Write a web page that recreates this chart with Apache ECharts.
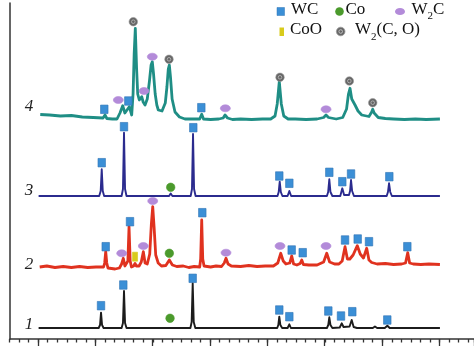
<!DOCTYPE html>
<html><head><meta charset="utf-8">
<script src="https://cdn.jsdelivr.net/npm/echarts@6/dist/echarts.min.js"></script>
<style>html,body{margin:0;padding:0;background:#fff}#c{width:474px;height:348px}</style>
</head><body><div id="c"></div>
<script>
// Curve labels
const curveLabels = ['1', '2', '3', '4'];
// Legend labels (phases)
const phaseNames = ['WC', 'Co', 'W₂C', 'CoO', 'W₂(C, O)'];

// XRD patterns: [2θ, intensity (offset, arbitrary units)]
const pattern1 = [
  [20.0,11],[31.0,11],[31.25,14],[31.43,26.3],[31.62,14],[31.9,11],
  [35.2,11],[35.45,16],[35.64,48],[35.83,16],[36.1,11],
  [43.8,11],[44.07,13],[44.35,11],
  [47.8,11],[48.03,17],[48.22,55.7],[48.41,17],[48.7,11],
  [63.7,11],[63.9,14],[64.08,22.3],[64.28,14],[64.6,11],
  [65.6,11],[65.92,14.7],[66.2,11],
  [72.8,11],[73.05,14],[73.24,21.7],[73.45,14],[73.8,11],
  [75.15,11.5],[75.51,15.7],[75.85,12],
  [76.95,12.5],[77.34,19],[77.7,12],[78.3,11],
  [81.2,11],[81.6,12.5],[82.0,11],
  [83.4,11],[83.87,13.3],[84.3,11],
  [93.5,11]
];
const pattern2 = [
  [20.2,72],[21.5,73],[23,71.5],[24.5,72.5],[26,71.5],[27.5,72.5],[29,71.5],[30.5,72],
  [31.9,72],[32.1,76],[32.29,87.3],[32.48,76],[32.7,71],
  [34,70],[34.8,71],[35.2,75],[35.51,80.7],[35.8,73],[36.1,71],[36.35,78],[36.56,112.3],[36.77,78],[37.0,72],
  [37.4,73],[37.66,75.5],[37.9,73],[38.4,73],[38.8,77],[39.18,87.3],[39.5,76],[39.9,75],
  [40.35,85],[40.65,115],[40.9,132.3],[41.15,112],[41.45,84],[41.9,76],[42.5,73],
  [43.3,73.5],[43.94,79],[44.5,74],[45.3,72.5],[46.5,73],[47.5,71.5],[48.5,72.5],[49.5,72],
  [49.68,80],[49.87,119],[50.06,80],[50.3,73],[51.5,72],[52.5,73],[53.5,72.5],
  [54.0,76],[54.32,80.7],[54.7,75],[55.3,73],[57,72.5],[58.5,73.5],[60,72.5],[61.5,73],[63,73],
  [63.8,76],[64.34,85.7],[64.8,78],[65.3,75],[66.0,76],[66.36,83],[66.7,75],[67.3,74],
  [67.9,75.5],[68.19,79],[68.5,74.5],[69.5,74],[71,74],[72.2,77],[72.77,85.7],[73.3,77],
  [74.2,75],[75,75],[75.6,78],[76.12,92.3],[76.55,80],[77,80],[77.6,84],[78.37,93.3],
  [78.9,85],[79.5,81],[80.09,90.7],[80.5,79],[81,76.5],[82,75],[83.5,75.5],[85,74.5],
  [86.5,75],[87.2,76],[87.6,86.3],[87.95,76],[88.6,75],[90,74.5],[91.5,75],[93.5,74.5]
];
const pattern3 = [
  [20.0,143],[31.1,143],[31.37,148],[31.56,169.7],[31.75,148],[32.0,143],
  [35.2,143],[35.45,150],[35.64,206.3],[35.83,150],[36.1,143],
  [43.9,143],[44.19,145.5],[44.5,143],
  [47.85,143],[48.09,150],[48.28,205],[48.47,150],[48.75,143],
  [51.1,143],[51.39,144.5],[51.7,143],
  [63.75,143],[63.97,147],[64.16,157.3],[64.36,147],[64.65,143],
  [65.6,143],[65.92,148],[66.25,143],
  [72.8,143],[73.03,147],[73.24,159.7],[73.45,147],[73.8,143],
  [75.25,143],[75.62,150.7],[75.95,144],
  [76.85,144],[77.04,148],[77.22,159],[77.42,148],[77.75,143],
  [83.75,143],[83.98,147],[84.18,155.7],[84.4,147],[84.7,143],
  [93.5,143]
];
const pattern4 = [
  [20.3,224.5],[22,224],[24,223],[26,223.5],[28,222],[30,221.5],[31.8,221],[32.16,224],[32.5,220.5],
  [33.5,220],[34.36,220],[34.9,226],[35.4,233.3],[35.8,226],[36.13,224],[36.61,232.3],[37.05,224],
  [37.3,245],[37.5,285],[37.71,310.7],[37.95,270],[38.15,245],[38.44,239],[38.88,242.3],[39.15,237],
  [39.49,234],[39.9,240],[40.3,258],[40.6,274],[40.82,277.3],[41.05,265],[41.35,245],[41.65,234],
  [41.92,229],[42.6,228],[43.2,236],[43.5,252],[43.75,270],[43.94,274],[44.15,262],[44.45,240],
  [44.98,227],[45.8,222],[46.81,220],[48,220],[49.5,220],[49.87,224.7],[50.2,220],[51.5,219.5],
  [53,220],[53.8,221],[54.14,224],[54.6,221],[55.5,219.5],[57,220],[59,219.5],[61,220],[62.5,220],
  [63.3,223],[63.7,235],[64.08,257.3],[64.45,235],[64.9,223],[65.7,220],[67,220],[69,219.5],[71,220],
  [72.2,221.5],[72.64,224],[73.1,221.5],[74.5,220],[75.7,221.5],[76.4,230],[76.75,245],[77.03,250.7],
  [77.35,240],[77.95,234],[78.5,228],[79.18,224],[80.5,222.5],[81.0,227],[81.19,229.7],[81.45,226],
  [82.2,221.5],[83.5,220.5],[85,220],[87,219.5],[89,220],[91,219.5],[93.5,220]
];

// Phase markers: [2θ, intensity]
const wcMarks = [
  [31.43,33.3],[35.51,54],[48.22,60.7],[64.08,29],[65.92,22.3],[73.06,28],[75.38,23],[77.45,27.3],[83.86,19],
  [32.29,92.3],[36.74,117.3],[49.98,126.3],[66.35,89],[68.37,86.3],[76.12,99],[78.44,100],[80.51,97.3],[87.53,92.3],
  [31.56,176.3],[35.64,212.3],[48.33,211.3],[64.08,163],[65.92,155.7],[73.24,166.7],[75.62,157.3],[77.22,165],[84.23,162.3],
  [32.03,229.7],[36.43,238],[49.80,231.3]
];
const coMarks = [[44.07,20.7],[43.94,85.7],[44.19,151.7]];
const w2cMarks = [
  [35.22,85.7],[39.18,93],[40.90,138],[54.32,86.3],[64.21,93],[72.64,93],
  [40.82,282.3],[39.30,248],[34.60,239],[54.20,230.7],[72.64,229.7]
];
const cooMarks = [[37.66,82.3]];
const w2coMarks = [[37.34,317.3],[43.88,279.7],[64.21,261.7],[76.91,258],[81.19,236.3]];

const serif = '"Liberation Serif", "DejaVu Serif", serif';
const C = {wc:'#3b8fd6', co:'#4b9a2c', w2c:'#b38bd9', coo:'#d8cb1c', w2co:'#666666'};

const chart = echarts.init(document.getElementById('c'));

function lineSeries(data, color, width) {
  return {type:'line', xAxisIndex:0, yAxisIndex:0, data, showSymbol:false, smooth:false,
    lineStyle:{color, width, join:'round'}, z:2, animation:false};
}
function markSeries(data, symbol, size, color, border) {
  return {type:'scatter', xAxisIndex:0, yAxisIndex:0, data, symbol, symbolSize:size,
    itemStyle:{color, borderColor:border || color, borderWidth:0.6, opacity:1}, z:5, animation:false, silent:true};
}

const subRich = {
  a:{fontSize:17, fontFamily:serif, lineHeight:18, verticalAlign:'top', fill:'#111', color:'#111'},
  b:{fontSize:11, fontFamily:serif, lineHeight:11, padding:[10,0,0,0], verticalAlign:'top', fill:'#111', color:'#111'}
};
function legText(x, y, t) {
  return {type:'text', x, y, silent:true, style:{text:t, rich:subRich, verticalAlign:'top', align:'left', fill:'#111'}};
}

const graphic = [
  {type:'rect', shape:{x:277, y:7.5, width:7.5, height:8}, style:{fill:C.wc, stroke:'#2f74b5', lineWidth:0.5}},
  legText(291, 1, '{a|' + phaseNames[0] + '}'),
  {type:'circle', shape:{cx:339.5, cy:11.5, r:4.3}, style:{fill:C.co}},
  legText(345.5, 1, '{a|' + phaseNames[1] + '}'),
  {type:'ellipse', shape:{cx:400, cy:11.5, rx:5, ry:3.6}, style:{fill:C.w2c}},
  legText(411.5, 1, '{a|W}{b|2}{a|C}'),
  {type:'rect', shape:{x:279.5, y:27.5, width:4.5, height:8.5}, style:{fill:C.coo}},
  legText(290, 21.5, '{a|' + phaseNames[3] + '}'),
  {type:'circle', shape:{cx:340.7, cy:31.5, r:4.3}, style:{fill:C.w2co, stroke:'#999', lineWidth:0.8}},
  {type:'circle', shape:{cx:340.7, cy:31.5, r:1.8}, style:{fill:'none', stroke:'#cfcfcf', lineWidth:0.8}},
  legText(355, 21.5, '{a|W}{b|2}{a|(C, O)}')
];
const labelY = [325, 264.5, 190.5, 107];
curveLabels.forEach((t, i) => graphic.push({type:'text', x:29, y:labelY[i], silent:true,
  style:{text:t, font:'italic 17px ' + serif, fill:'#222', align:'center', verticalAlign:'middle'}}));

chart.setOption({
  animation:false,
  backgroundColor:'#fff',
  grid:[
    {left:10, right:0, top:3, bottom:9},
    {left:38, right:0, top:3, bottom:9},
    {left:9.4, right:0, top:3, bottom:9}
  ],
  xAxis:[
    {type:'value', gridIndex:0, min:14.76, max:99.74, axisLine:{show:true, onZero:false, lineStyle:{color:'#333', width:1.5}},
     axisTick:{show:false}, axisLabel:{show:false}, splitLine:{show:false}},
    {type:'value', gridIndex:1, min:0, max:7.609, interval:1, axisLine:{show:false},
     axisTick:{show:true, length:7, inside:false, lineStyle:{color:'#333', width:1.3}}, axisLabel:{show:false}, splitLine:{show:false}},
    {type:'value', gridIndex:2, min:0, max:48.6, interval:1, axisLine:{show:false},
     axisTick:{show:true, length:3.5, inside:false, lineStyle:{color:'#333', width:1.3}}, axisLabel:{show:false}, splitLine:{show:false}}
  ],
  yAxis:[
    {type:'value', gridIndex:0, min:0, max:336, axisLine:{show:true, lineStyle:{color:'#333', width:1.5}},
     axisTick:{show:false}, axisLabel:{show:false}, splitLine:{show:false}},
    {type:'value', gridIndex:1, min:0, max:1, show:false},
    {type:'value', gridIndex:2, min:0, max:1, show:false}
  ],
  graphic,
  series:[
    lineSeries(pattern1, '#1c1c1c', 1.9),
    lineSeries(pattern2, '#e0321f', 2.8),
    lineSeries(pattern3, '#2b2b8e', 1.9),
    lineSeries(pattern4, '#1f8e85', 2.8),
    markSeries(wcMarks, 'rect', [7.5, 8.5], C.wc, '#2f74b5'),
    markSeries(coMarks, 'circle', 8.5, C.co),
    markSeries(w2cMarks, 'circle', [10, 7], C.w2c),
    markSeries(cooMarks, 'rect', [5, 9], C.coo),
    markSeries(w2coMarks, 'circle', 8.5, C.w2co, '#999'),
    {type:'scatter', xAxisIndex:0, yAxisIndex:0, data:w2coMarks, symbol:'circle', symbolSize:3.6,
     itemStyle:{color:'rgba(0,0,0,0)', borderColor:'#d0d0d0', borderWidth:0.8}, z:6, animation:false, silent:true}
  ]
});
</script></body></html>
